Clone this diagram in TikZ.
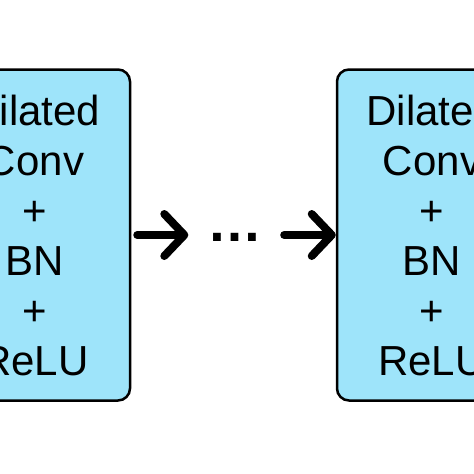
\documentclass[tikz,border=0pt]{standalone}
\usepackage{fontspec}
\setmainfont{Liberation Sans}
\usetikzlibrary{arrows.meta}
\definecolor{blockblue}{RGB}{158,228,250}
\tikzset{
	convblock/.style={draw=black, fill=blockblue, line width=2.5pt, rounded corners=12pt,
		minimum width=190pt, minimum height=331pt, align=center,
		font=\fontsize{42}{50}\selectfont},
	flowarrow/.style={line width=8pt, line cap=round,
		-{Straight Barb[length=20pt,width=42pt,round]}}
}

\begin{document}
\begin{tikzpicture}[x=1pt, y=-1pt]
			%%%%% START %%%%%
			
			\useasboundingbox (0, 0) rectangle (474, 474);
			
			\node[convblock] (leftblock) at (35, 235) {Dilated\\Conv\\+\\BN\\+\\ReLU};
			\node[convblock] (rightblock) at (432, 235) {Dilated\\Conv\\+\\BN\\+\\ReLU};
			
			\node[anchor=base, inner xsep=19pt, font=\fontsize{55}{55}\selectfont\bfseries] (dots) at (235, 241) {…};
			
			\draw[flowarrow, shorten <=6pt] (leftblock.east) -- (dots.west |- leftblock.east);
			\draw[flowarrow, shorten <=2.5pt] (dots.east |- rightblock.west) -- (rightblock.west);
			
			%%%%% END %%%%%
\end{tikzpicture}
\end{document}
